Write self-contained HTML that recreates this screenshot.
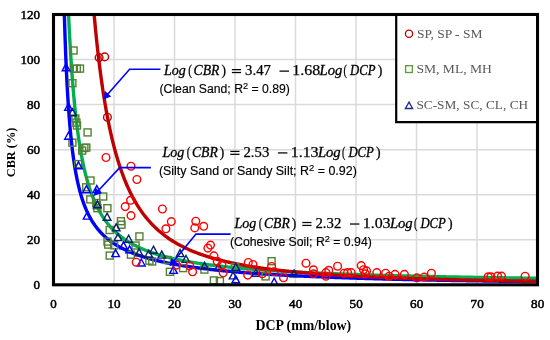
<!DOCTYPE html><html><head><meta charset="utf-8"><style>html,body{margin:0;padding:0;background:#fff;width:550px;height:340px;overflow:hidden}svg{display:block;will-change:transform}</style></head><body>
<svg width="550" height="340" viewBox="0 0 550 340">
<defs><clipPath id="pc"><rect x="53.50" y="14.50" width="484.00" height="270.30"/></clipPath></defs>
<rect width="550" height="340" fill="#fff"/>
<path d="M114.00 14.50V284.80M174.50 14.50V284.80M235.00 14.50V284.80M295.50 14.50V284.80M356.00 14.50V284.80M416.50 14.50V284.80M477.00 14.50V284.80M53.50 239.75H537.50M53.50 194.70H537.50M53.50 149.65H537.50M53.50 104.60H537.50M53.50 59.55H537.50" stroke="#dadada" stroke-width="1.5" fill="none"/>
<path d="M56.52 -1886.36 L56.83 -1620.31 L57.13 -1407.33 L57.43 -1233.49 L57.73 -1089.27 L58.04 -967.95 L58.34 -864.67 L58.64 -775.81 L58.95 -698.66 L59.25 -631.12 L59.55 -571.57 L59.85 -518.71 L60.16 -471.51 L60.46 -429.15 L60.76 -390.94 L61.06 -356.31 L61.37 -324.81 L61.67 -296.05 L61.97 -269.68 L62.27 -245.44 L62.58 -223.09 L62.88 -202.42 L63.18 -183.25 L63.48 -165.44 L63.79 -148.84 L64.09 -133.35 L64.39 -118.85 L64.69 -105.26 L65.00 -92.50 L65.30 -80.50 L65.60 -69.19 L65.90 -58.51 L66.21 -48.43 L66.51 -38.88 L66.81 -29.84 L67.11 -21.25 L67.42 -13.10 L67.72 -5.34 L68.02 2.04 L68.32 9.08 L68.62 15.80 L68.93 22.21 L69.23 28.34 L69.53 34.21 L69.83 39.83 L70.14 45.21 L70.44 50.38 L70.74 55.34 L71.04 60.10 L71.35 64.68 L71.65 69.09 L71.95 73.33 L72.25 77.42 L72.56 81.36 L72.86 85.16 L73.16 88.82 L73.46 92.36 L73.77 95.78 L74.07 99.09 L74.37 102.29 L74.67 105.38 L74.98 108.38 L75.28 111.28 L75.58 114.09 L75.88 116.82 L76.19 119.46 L76.49 122.03 L76.79 124.52 L77.09 126.94 L77.40 129.29 L77.70 131.57 L78.00 133.79 L78.30 135.95 L78.61 138.05 L78.91 140.09 L79.21 142.08 L79.51 144.02 L79.82 145.91 L80.12 147.75 L80.42 149.54 L80.72 151.29 L81.03 153.00 L81.33 154.66 L81.63 156.29 L81.93 157.87 L82.24 159.42 L82.54 160.94 L82.84 162.41 L83.14 163.86 L83.45 165.27 L83.75 166.65 L84.05 168.00 L84.35 169.32 L84.66 170.61 L84.96 171.87 L85.26 173.11 L85.56 174.32 L85.87 175.50 L86.17 176.67 L86.47 177.80 L86.77 178.92 L87.08 180.01 L87.38 181.08 L87.68 182.13 L87.98 183.16 L88.29 184.17 L88.59 185.16 L88.89 186.13 L89.19 187.08 L89.50 188.02 L89.80 188.93 L90.10 189.83 L90.40 190.72 L90.71 191.59 L91.01 192.44 L91.31 193.28 L91.61 194.10 L91.92 194.91 L92.22 195.71 L92.52 196.49 L92.82 197.25 L93.13 198.01 L93.43 198.75 L93.73 199.48 L94.03 200.20 L94.34 200.91 L94.64 201.60 L94.94 202.29 L95.24 202.96 L95.55 203.62 L95.85 204.27 L96.15 204.91 L96.45 205.55 L96.76 206.17 L97.06 206.78 L97.36 207.38 L97.66 207.98 L97.97 208.56 L98.27 209.14 L98.57 209.71 L98.87 210.27 L99.18 210.82 L99.48 211.36 L99.78 211.90 L100.08 212.43 L100.39 212.95 L100.69 213.46 L100.99 213.97 L101.29 214.47 L101.60 214.96 L101.90 215.44 L102.20 215.92 L102.50 216.40 L102.81 216.86 L103.11 217.32 L103.41 217.78 L103.71 218.22 L104.02 218.67 L104.32 219.10 L104.62 219.53 L104.92 219.96 L105.23 220.38 L105.53 220.79 L105.83 221.20 L106.13 221.60 L106.44 222.00 L106.74 222.40 L107.04 222.79 L107.34 223.17 L107.65 223.55 L107.95 223.93 L108.25 224.30 L108.55 224.66 L108.86 225.02 L109.16 225.38 L109.46 225.73 L109.77 226.08 L110.07 226.43 L110.37 226.77 L110.67 227.11 L110.98 227.44 L111.28 227.77 L111.58 228.10 L111.88 228.42 L112.19 228.74 L112.49 229.05 L112.79 229.36 L113.09 229.67 L113.40 229.97 L113.70 230.28 L114.00 230.57 L115.51 232.02 L117.03 233.39 L118.54 234.69 L120.05 235.92 L121.56 237.10 L123.08 238.22 L124.59 239.29 L126.10 240.31 L127.61 241.29 L129.13 242.22 L130.64 243.12 L132.15 243.98 L133.66 244.80 L135.18 245.59 L136.69 246.35 L138.20 247.09 L139.71 247.79 L141.23 248.47 L142.74 249.12 L144.25 249.75 L145.76 250.36 L147.28 250.95 L148.79 251.52 L150.30 252.06 L151.81 252.60 L153.33 253.11 L154.84 253.61 L156.35 254.09 L157.86 254.55 L159.38 255.01 L160.89 255.45 L162.40 255.87 L163.91 256.29 L165.43 256.69 L166.94 257.08 L168.45 257.46 L169.96 257.83 L171.48 258.19 L172.99 258.54 L174.50 258.88 L176.01 259.21 L177.53 259.54 L179.04 259.85 L180.55 260.16 L182.06 260.46 L183.58 260.75 L185.09 261.04 L186.60 261.31 L188.11 261.59 L189.63 261.85 L191.14 262.11 L192.65 262.37 L194.16 262.61 L195.68 262.86 L197.19 263.09 L198.70 263.32 L200.21 263.55 L201.73 263.77 L203.24 263.99 L204.75 264.20 L206.26 264.41 L207.78 264.62 L209.29 264.82 L210.80 265.01 L212.31 265.20 L213.83 265.39 L215.34 265.58 L216.85 265.76 L218.36 265.94 L219.88 266.11 L221.39 266.28 L222.90 266.45 L224.41 266.61 L225.93 266.78 L227.44 266.93 L228.95 267.09 L230.46 267.24 L231.98 267.39 L233.49 267.54 L235.00 267.69 L236.51 267.83 L238.03 267.97 L239.54 268.11 L241.05 268.24 L242.56 268.38 L244.08 268.51 L245.59 268.64 L247.10 268.77 L248.61 268.89 L250.13 269.01 L251.64 269.13 L253.15 269.25 L254.66 269.37 L256.18 269.49 L257.69 269.60 L259.20 269.71 L260.71 269.82 L262.23 269.93 L263.74 270.04 L265.25 270.14 L266.76 270.25 L268.28 270.35 L269.79 270.45 L271.30 270.55 L272.81 270.65 L274.33 270.75 L275.84 270.84 L277.35 270.94 L278.86 271.03 L280.38 271.12 L281.89 271.21 L283.40 271.30 L284.91 271.39 L286.43 271.47 L287.94 271.56 L289.45 271.64 L290.96 271.73 L292.48 271.81 L293.99 271.89 L295.50 271.97 L297.01 272.05 L298.53 272.13 L300.04 272.21 L301.55 272.28 L303.06 272.36 L304.58 272.43 L306.09 272.51 L307.60 272.58 L309.11 272.65 L310.63 272.72 L312.14 272.79 L313.65 272.86 L315.16 272.93 L316.68 273.00 L318.19 273.06 L319.70 273.13 L321.21 273.19 L322.73 273.26 L324.24 273.32 L325.75 273.38 L327.26 273.45 L328.78 273.51 L330.29 273.57 L331.80 273.63 L333.31 273.69 L334.83 273.75 L336.34 273.81 L337.85 273.86 L339.36 273.92 L340.88 273.98 L342.39 274.03 L343.90 274.09 L345.41 274.14 L346.93 274.20 L348.44 274.25 L349.95 274.30 L351.46 274.36 L352.98 274.41 L354.49 274.46 L356.00 274.51 L357.51 274.56 L359.03 274.61 L360.54 274.66 L362.05 274.71 L363.56 274.76 L365.08 274.80 L366.59 274.85 L368.10 274.90 L369.61 274.94 L371.13 274.99 L372.64 275.04 L374.15 275.08 L375.66 275.13 L377.18 275.17 L378.69 275.21 L380.20 275.26 L381.71 275.30 L383.23 275.34 L384.74 275.39 L386.25 275.43 L387.76 275.47 L389.28 275.51 L390.79 275.55 L392.30 275.59 L393.81 275.63 L395.33 275.67 L396.84 275.71 L398.35 275.75 L399.86 275.79 L401.38 275.83 L402.89 275.86 L404.40 275.90 L405.91 275.94 L407.43 275.98 L408.94 276.01 L410.45 276.05 L411.96 276.09 L413.48 276.12 L414.99 276.16 L416.50 276.19 L418.01 276.23 L419.53 276.26 L421.04 276.30 L422.55 276.33 L424.06 276.36 L425.58 276.40 L427.09 276.43 L428.60 276.46 L430.11 276.50 L431.63 276.53 L433.14 276.56 L434.65 276.59 L436.16 276.62 L437.68 276.65 L439.19 276.69 L440.70 276.72 L442.21 276.75 L443.73 276.78 L445.24 276.81 L446.75 276.84 L448.26 276.87 L449.77 276.90 L451.29 276.93 L452.80 276.95 L454.31 276.98 L455.82 277.01 L457.34 277.04 L458.85 277.07 L460.36 277.10 L461.88 277.12 L463.39 277.15 L464.90 277.18 L466.41 277.21 L467.93 277.23 L469.44 277.26 L470.95 277.29 L472.46 277.31 L473.98 277.34 L475.49 277.36 L477.00 277.39 L478.51 277.42 L480.02 277.44 L481.54 277.47 L483.05 277.49 L484.56 277.52 L486.07 277.54 L487.59 277.57 L489.10 277.59 L490.61 277.61 L492.12 277.64 L493.64 277.66 L495.15 277.69 L496.66 277.71 L498.18 277.73 L499.69 277.76 L501.20 277.78 L502.71 277.80 L504.23 277.82 L505.74 277.85 L507.25 277.87 L508.76 277.89 L510.27 277.91 L511.79 277.94 L513.30 277.96 L514.81 277.98 L516.33 278.00 L517.84 278.02 L519.35 278.04 L520.86 278.07 L522.38 278.09 L523.89 278.11 L525.40 278.13 L526.91 278.15 L528.42 278.17 L529.94 278.19 L531.45 278.21 L532.96 278.23 L534.48 278.25 L535.99 278.27 L537.50 278.29" stroke="#00b050" stroke-width="3.40" fill="none" stroke-linejoin="round" clip-path="url(#pc)"/>
<path d="M56.52 -2387.97 L56.83 -1870.92 L57.13 -1499.38 L57.43 -1223.15 L57.73 -1011.91 L58.04 -846.49 L58.34 -714.34 L58.64 -606.91 L58.95 -518.27 L59.25 -444.16 L59.55 -381.49 L59.85 -327.93 L60.16 -281.74 L60.46 -241.57 L60.76 -206.39 L61.06 -175.36 L61.37 -147.82 L61.67 -123.25 L61.97 -101.20 L62.27 -81.34 L62.58 -63.35 L62.88 -47.01 L63.18 -32.10 L63.48 -18.44 L63.79 -5.91 L64.09 5.65 L64.39 16.32 L64.69 26.21 L65.00 35.39 L65.30 43.94 L65.60 51.92 L65.90 59.38 L66.21 66.37 L66.51 72.93 L66.81 79.09 L67.11 84.90 L67.42 90.39 L67.72 95.56 L68.02 100.47 L68.32 105.11 L68.62 109.52 L68.93 113.70 L69.23 117.69 L69.53 121.48 L69.83 125.10 L70.14 128.55 L70.44 131.85 L70.74 135.00 L71.04 138.02 L71.35 140.92 L71.65 143.69 L71.95 146.35 L72.25 148.91 L72.56 151.37 L72.86 153.74 L73.16 156.02 L73.46 158.21 L73.77 160.33 L74.07 162.37 L74.37 164.34 L74.67 166.25 L74.98 168.09 L75.28 169.87 L75.58 171.59 L75.88 173.26 L76.19 174.88 L76.49 176.44 L76.79 177.96 L77.09 179.44 L77.40 180.87 L77.70 182.26 L78.00 183.61 L78.30 184.92 L78.61 186.19 L78.91 187.44 L79.21 188.64 L79.51 189.82 L79.82 190.96 L80.12 192.08 L80.42 193.17 L80.72 194.23 L81.03 195.26 L81.33 196.27 L81.63 197.25 L81.93 198.21 L82.24 199.15 L82.54 200.07 L82.84 200.96 L83.14 201.84 L83.45 202.70 L83.75 203.53 L84.05 204.35 L84.35 205.15 L84.66 205.94 L84.96 206.70 L85.26 207.46 L85.56 208.19 L85.87 208.91 L86.17 209.62 L86.47 210.31 L86.77 210.99 L87.08 211.66 L87.38 212.31 L87.68 212.95 L87.98 213.58 L88.29 214.20 L88.59 214.80 L88.89 215.40 L89.19 215.98 L89.50 216.56 L89.80 217.12 L90.10 217.67 L90.40 218.22 L90.71 218.75 L91.01 219.28 L91.31 219.79 L91.61 220.30 L91.92 220.80 L92.22 221.29 L92.52 221.78 L92.82 222.25 L93.13 222.72 L93.43 223.18 L93.73 223.63 L94.03 224.08 L94.34 224.52 L94.64 224.95 L94.94 225.38 L95.24 225.80 L95.55 226.21 L95.85 226.62 L96.15 227.02 L96.45 227.42 L96.76 227.81 L97.06 228.20 L97.36 228.57 L97.66 228.95 L97.97 229.32 L98.27 229.68 L98.57 230.04 L98.87 230.39 L99.18 230.74 L99.48 231.09 L99.78 231.43 L100.08 231.76 L100.39 232.10 L100.69 232.42 L100.99 232.74 L101.29 233.06 L101.60 233.38 L101.90 233.69 L102.20 234.00 L102.50 234.30 L102.81 234.60 L103.11 234.89 L103.41 235.19 L103.71 235.47 L104.02 235.76 L104.32 236.04 L104.62 236.32 L104.92 236.60 L105.23 236.87 L105.53 237.14 L105.83 237.40 L106.13 237.66 L106.44 237.92 L106.74 238.18 L107.04 238.44 L107.34 238.69 L107.65 238.94 L107.95 239.18 L108.25 239.42 L108.55 239.67 L108.86 239.90 L109.16 240.14 L109.46 240.37 L109.77 240.60 L110.07 240.83 L110.37 241.06 L110.67 241.28 L110.98 241.50 L111.28 241.72 L111.58 241.94 L111.88 242.15 L112.19 242.36 L112.49 242.57 L112.79 242.78 L113.09 242.99 L113.40 243.19 L113.70 243.39 L114.00 243.59 L115.51 244.57 L117.03 245.49 L118.54 246.38 L120.05 247.23 L121.56 248.04 L123.08 248.82 L124.59 249.57 L126.10 250.28 L127.61 250.97 L129.13 251.64 L130.64 252.28 L132.15 252.89 L133.66 253.49 L135.18 254.06 L136.69 254.62 L138.20 255.16 L139.71 255.68 L141.23 256.18 L142.74 256.67 L144.25 257.14 L145.76 257.59 L147.28 258.04 L148.79 258.47 L150.30 258.89 L151.81 259.30 L153.33 259.69 L154.84 260.08 L156.35 260.45 L157.86 260.81 L159.38 261.17 L160.89 261.51 L162.40 261.85 L163.91 262.18 L165.43 262.50 L166.94 262.81 L168.45 263.12 L169.96 263.42 L171.48 263.71 L172.99 263.99 L174.50 264.27 L176.01 264.54 L177.53 264.80 L179.04 265.06 L180.55 265.32 L182.06 265.57 L183.58 265.81 L185.09 266.05 L186.60 266.28 L188.11 266.51 L189.63 266.73 L191.14 266.95 L192.65 267.16 L194.16 267.38 L195.68 267.58 L197.19 267.78 L198.70 267.98 L200.21 268.18 L201.73 268.37 L203.24 268.56 L204.75 268.74 L206.26 268.92 L207.78 269.10 L209.29 269.27 L210.80 269.44 L212.31 269.61 L213.83 269.78 L215.34 269.94 L216.85 270.10 L218.36 270.25 L219.88 270.41 L221.39 270.56 L222.90 270.71 L224.41 270.86 L225.93 271.00 L227.44 271.14 L228.95 271.28 L230.46 271.42 L231.98 271.55 L233.49 271.69 L235.00 271.82 L236.51 271.95 L238.03 272.07 L239.54 272.20 L241.05 272.32 L242.56 272.44 L244.08 272.56 L245.59 272.68 L247.10 272.79 L248.61 272.91 L250.13 273.02 L251.64 273.13 L253.15 273.24 L254.66 273.35 L256.18 273.46 L257.69 273.56 L259.20 273.66 L260.71 273.77 L262.23 273.87 L263.74 273.96 L265.25 274.06 L266.76 274.16 L268.28 274.25 L269.79 274.35 L271.30 274.44 L272.81 274.53 L274.33 274.62 L275.84 274.71 L277.35 274.80 L278.86 274.88 L280.38 274.97 L281.89 275.05 L283.40 275.14 L284.91 275.22 L286.43 275.30 L287.94 275.38 L289.45 275.46 L290.96 275.54 L292.48 275.62 L293.99 275.69 L295.50 275.77 L297.01 275.84 L298.53 275.91 L300.04 275.99 L301.55 276.06 L303.06 276.13 L304.58 276.20 L306.09 276.27 L307.60 276.34 L309.11 276.41 L310.63 276.47 L312.14 276.54 L313.65 276.60 L315.16 276.67 L316.68 276.73 L318.19 276.79 L319.70 276.86 L321.21 276.92 L322.73 276.98 L324.24 277.04 L325.75 277.10 L327.26 277.16 L328.78 277.22 L330.29 277.27 L331.80 277.33 L333.31 277.39 L334.83 277.44 L336.34 277.50 L337.85 277.55 L339.36 277.61 L340.88 277.66 L342.39 277.71 L343.90 277.77 L345.41 277.82 L346.93 277.87 L348.44 277.92 L349.95 277.97 L351.46 278.02 L352.98 278.07 L354.49 278.12 L356.00 278.16 L357.51 278.21 L359.03 278.26 L360.54 278.31 L362.05 278.35 L363.56 278.40 L365.08 278.44 L366.59 278.49 L368.10 278.53 L369.61 278.58 L371.13 278.62 L372.64 278.66 L374.15 278.70 L375.66 278.75 L377.18 278.79 L378.69 278.83 L380.20 278.87 L381.71 278.91 L383.23 278.95 L384.74 278.99 L386.25 279.03 L387.76 279.07 L389.28 279.11 L390.79 279.15 L392.30 279.18 L393.81 279.22 L395.33 279.26 L396.84 279.30 L398.35 279.33 L399.86 279.37 L401.38 279.41 L402.89 279.44 L404.40 279.48 L405.91 279.51 L407.43 279.55 L408.94 279.58 L410.45 279.61 L411.96 279.65 L413.48 279.68 L414.99 279.71 L416.50 279.75 L418.01 279.78 L419.53 279.81 L421.04 279.84 L422.55 279.87 L424.06 279.91 L425.58 279.94 L427.09 279.97 L428.60 280.00 L430.11 280.03 L431.63 280.06 L433.14 280.09 L434.65 280.12 L436.16 280.15 L437.68 280.18 L439.19 280.20 L440.70 280.23 L442.21 280.26 L443.73 280.29 L445.24 280.32 L446.75 280.34 L448.26 280.37 L449.77 280.40 L451.29 280.43 L452.80 280.45 L454.31 280.48 L455.82 280.50 L457.34 280.53 L458.85 280.56 L460.36 280.58 L461.88 280.61 L463.39 280.63 L464.90 280.66 L466.41 280.68 L467.93 280.71 L469.44 280.73 L470.95 280.75 L472.46 280.78 L473.98 280.80 L475.49 280.83 L477.00 280.85 L478.51 280.87 L480.02 280.89 L481.54 280.92 L483.05 280.94 L484.56 280.96 L486.07 280.98 L487.59 281.01 L489.10 281.03 L490.61 281.05 L492.12 281.07 L493.64 281.09 L495.15 281.11 L496.66 281.14 L498.18 281.16 L499.69 281.18 L501.20 281.20 L502.71 281.22 L504.23 281.24 L505.74 281.26 L507.25 281.28 L508.76 281.30 L510.27 281.32 L511.79 281.34 L513.30 281.36 L514.81 281.38 L516.33 281.39 L517.84 281.41 L519.35 281.43 L520.86 281.45 L522.38 281.47 L523.89 281.49 L525.40 281.51 L526.91 281.52 L528.42 281.54 L529.94 281.56 L531.45 281.58 L532.96 281.60 L534.48 281.61 L535.99 281.63 L537.50 281.65" stroke="#0000ff" stroke-width="3.40" fill="none" stroke-linejoin="round" clip-path="url(#pc)"/>
<path d="M56.52 -21015.26 L56.83 -17863.62 L57.13 -15395.39 L57.43 -13422.38 L57.73 -11817.70 L58.04 -10493.09 L58.34 -9385.55 L58.64 -8449.06 L58.95 -7649.33 L59.25 -6960.35 L59.55 -6362.10 L59.85 -5838.95 L60.16 -5378.52 L60.46 -4970.95 L60.76 -4608.23 L61.06 -4283.87 L61.37 -3992.49 L61.67 -3729.67 L61.97 -3491.70 L62.27 -3275.46 L62.58 -3078.31 L62.88 -2898.02 L63.18 -2732.67 L63.48 -2580.60 L63.79 -2440.40 L64.09 -2310.84 L64.39 -2190.82 L64.69 -2079.42 L65.00 -1975.80 L65.30 -1879.24 L65.60 -1789.10 L65.90 -1704.80 L66.21 -1625.83 L66.51 -1551.75 L66.81 -1482.14 L67.11 -1416.65 L67.42 -1354.95 L67.72 -1296.73 L68.02 -1241.75 L68.32 -1189.75 L68.62 -1140.52 L68.93 -1093.86 L69.23 -1049.59 L69.53 -1007.54 L69.83 -967.57 L70.14 -929.53 L70.44 -893.30 L70.74 -858.76 L71.04 -825.81 L71.35 -794.35 L71.65 -764.29 L71.95 -735.54 L72.25 -708.02 L72.56 -681.67 L72.86 -656.42 L73.16 -632.20 L73.46 -608.96 L73.77 -586.65 L74.07 -565.21 L74.37 -544.60 L74.67 -524.77 L74.98 -505.69 L75.28 -487.32 L75.58 -469.61 L75.88 -452.55 L76.19 -436.09 L76.49 -420.21 L76.79 -404.88 L77.09 -390.08 L77.40 -375.77 L77.70 -361.95 L78.00 -348.57 L78.30 -335.64 L78.61 -323.12 L78.91 -310.99 L79.21 -299.25 L79.51 -287.87 L79.82 -276.85 L80.12 -266.15 L80.42 -255.78 L80.72 -245.71 L81.03 -235.94 L81.33 -226.45 L81.63 -217.24 L81.93 -208.29 L82.24 -199.59 L82.54 -191.13 L82.84 -182.90 L83.14 -174.90 L83.45 -167.11 L83.75 -159.54 L84.05 -152.16 L84.35 -144.97 L84.66 -137.98 L84.96 -131.16 L85.26 -124.51 L85.56 -118.04 L85.87 -111.72 L86.17 -105.56 L86.47 -99.55 L86.77 -93.69 L87.08 -87.97 L87.38 -82.38 L87.68 -76.93 L87.98 -71.60 L88.29 -66.40 L88.59 -61.32 L88.89 -56.36 L89.19 -51.50 L89.50 -46.76 L89.80 -42.12 L90.10 -37.58 L90.40 -33.15 L90.71 -28.81 L91.01 -24.56 L91.31 -20.40 L91.61 -16.34 L91.92 -12.36 L92.22 -8.46 L92.52 -4.64 L92.82 -0.90 L93.13 2.77 L93.43 6.35 L93.73 9.87 L94.03 13.32 L94.34 16.70 L94.64 20.01 L94.94 23.26 L95.24 26.44 L95.55 29.56 L95.85 32.63 L96.15 35.63 L96.45 38.58 L96.76 41.48 L97.06 44.32 L97.36 47.11 L97.66 49.84 L97.97 52.53 L98.27 55.17 L98.57 57.76 L98.87 60.30 L99.18 62.80 L99.48 65.26 L99.78 67.67 L100.08 70.04 L100.39 72.37 L100.69 74.66 L100.99 76.91 L101.29 79.13 L101.60 81.30 L101.90 83.44 L102.20 85.55 L102.50 87.62 L102.81 89.65 L103.11 91.65 L103.41 93.62 L103.71 95.56 L104.02 97.47 L104.32 99.34 L104.62 101.19 L104.92 103.01 L105.23 104.80 L105.53 106.56 L105.83 108.29 L106.13 110.00 L106.44 111.68 L106.74 113.34 L107.04 114.97 L107.34 116.58 L107.65 118.16 L107.95 119.72 L108.25 121.25 L108.55 122.77 L108.86 124.26 L109.16 125.73 L109.46 127.18 L109.77 128.60 L110.07 130.01 L110.37 131.40 L110.67 132.76 L110.98 134.11 L111.28 135.44 L111.58 136.75 L111.88 138.05 L112.19 139.32 L112.49 140.58 L112.79 141.82 L113.09 143.04 L113.40 144.25 L113.70 145.44 L114.00 146.61 L115.51 152.26 L117.03 157.54 L118.54 162.50 L120.05 167.16 L121.56 171.55 L123.08 175.68 L124.59 179.57 L126.10 183.26 L127.61 186.74 L129.13 190.03 L130.64 193.16 L132.15 196.12 L133.66 198.94 L135.18 201.61 L136.69 204.16 L138.20 206.58 L139.71 208.90 L141.23 211.10 L142.74 213.21 L144.25 215.22 L145.76 217.14 L147.28 218.99 L148.79 220.75 L150.30 222.44 L151.81 224.06 L153.33 225.62 L154.84 227.11 L156.35 228.55 L157.86 229.93 L159.38 231.25 L160.89 232.53 L162.40 233.76 L163.91 234.95 L165.43 236.09 L166.94 237.19 L168.45 238.25 L169.96 239.28 L171.48 240.27 L172.99 241.23 L174.50 242.16 L176.01 243.05 L177.53 243.92 L179.04 244.75 L180.55 245.57 L182.06 246.35 L183.58 247.11 L185.09 247.85 L186.60 248.57 L188.11 249.26 L189.63 249.94 L191.14 250.59 L192.65 251.23 L194.16 251.84 L195.68 252.44 L197.19 253.02 L198.70 253.59 L200.21 254.14 L201.73 254.68 L203.24 255.20 L204.75 255.71 L206.26 256.20 L207.78 256.68 L209.29 257.15 L210.80 257.61 L212.31 258.05 L213.83 258.48 L215.34 258.91 L216.85 259.32 L218.36 259.72 L219.88 260.11 L221.39 260.50 L222.90 260.87 L224.41 261.24 L225.93 261.59 L227.44 261.94 L228.95 262.28 L230.46 262.61 L231.98 262.94 L233.49 263.26 L235.00 263.57 L236.51 263.87 L238.03 264.17 L239.54 264.46 L241.05 264.74 L242.56 265.02 L244.08 265.29 L245.59 265.56 L247.10 265.82 L248.61 266.08 L250.13 266.33 L251.64 266.57 L253.15 266.81 L254.66 267.05 L256.18 267.28 L257.69 267.50 L259.20 267.73 L260.71 267.94 L262.23 268.16 L263.74 268.37 L265.25 268.57 L266.76 268.77 L268.28 268.97 L269.79 269.16 L271.30 269.35 L272.81 269.54 L274.33 269.72 L275.84 269.90 L277.35 270.08 L278.86 270.25 L280.38 270.42 L281.89 270.59 L283.40 270.76 L284.91 270.92 L286.43 271.08 L287.94 271.23 L289.45 271.39 L290.96 271.54 L292.48 271.68 L293.99 271.83 L295.50 271.97 L297.01 272.11 L298.53 272.25 L300.04 272.39 L301.55 272.52 L303.06 272.65 L304.58 272.78 L306.09 272.91 L307.60 273.04 L309.11 273.16 L310.63 273.28 L312.14 273.40 L313.65 273.52 L315.16 273.64 L316.68 273.75 L318.19 273.86 L319.70 273.97 L321.21 274.08 L322.73 274.19 L324.24 274.30 L325.75 274.40 L327.26 274.50 L328.78 274.61 L330.29 274.71 L331.80 274.80 L333.31 274.90 L334.83 275.00 L336.34 275.09 L337.85 275.18 L339.36 275.27 L340.88 275.37 L342.39 275.45 L343.90 275.54 L345.41 275.63 L346.93 275.71 L348.44 275.80 L349.95 275.88 L351.46 275.96 L352.98 276.04 L354.49 276.12 L356.00 276.20 L357.51 276.28 L359.03 276.36 L360.54 276.43 L362.05 276.51 L363.56 276.58 L365.08 276.65 L366.59 276.72 L368.10 276.79 L369.61 276.86 L371.13 276.93 L372.64 277.00 L374.15 277.07 L375.66 277.14 L377.18 277.20 L378.69 277.27 L380.20 277.33 L381.71 277.39 L383.23 277.46 L384.74 277.52 L386.25 277.58 L387.76 277.64 L389.28 277.70 L390.79 277.76 L392.30 277.81 L393.81 277.87 L395.33 277.93 L396.84 277.98 L398.35 278.04 L399.86 278.09 L401.38 278.15 L402.89 278.20 L404.40 278.25 L405.91 278.31 L407.43 278.36 L408.94 278.41 L410.45 278.46 L411.96 278.51 L413.48 278.56 L414.99 278.61 L416.50 278.66 L418.01 278.70 L419.53 278.75 L421.04 278.80 L422.55 278.84 L424.06 278.89 L425.58 278.93 L427.09 278.98 L428.60 279.02 L430.11 279.07 L431.63 279.11 L433.14 279.15 L434.65 279.19 L436.16 279.24 L437.68 279.28 L439.19 279.32 L440.70 279.36 L442.21 279.40 L443.73 279.44 L445.24 279.48 L446.75 279.52 L448.26 279.55 L449.77 279.59 L451.29 279.63 L452.80 279.67 L454.31 279.70 L455.82 279.74 L457.34 279.78 L458.85 279.81 L460.36 279.85 L461.88 279.88 L463.39 279.92 L464.90 279.95 L466.41 279.99 L467.93 280.02 L469.44 280.05 L470.95 280.09 L472.46 280.12 L473.98 280.15 L475.49 280.18 L477.00 280.22 L478.51 280.25 L480.02 280.28 L481.54 280.31 L483.05 280.34 L484.56 280.37 L486.07 280.40 L487.59 280.43 L489.10 280.46 L490.61 280.49 L492.12 280.52 L493.64 280.55 L495.15 280.58 L496.66 280.60 L498.18 280.63 L499.69 280.66 L501.20 280.69 L502.71 280.71 L504.23 280.74 L505.74 280.77 L507.25 280.79 L508.76 280.82 L510.27 280.85 L511.79 280.87 L513.30 280.90 L514.81 280.92 L516.33 280.95 L517.84 280.97 L519.35 281.00 L520.86 281.02 L522.38 281.05 L523.89 281.07 L525.40 281.10 L526.91 281.12 L528.42 281.14 L529.94 281.17 L531.45 281.19 L532.96 281.21 L534.48 281.23 L535.99 281.26 L537.50 281.28" stroke="#c00000" stroke-width="3.40" fill="none" stroke-linejoin="round" clip-path="url(#pc)"/>
<g clip-path="url(#pc)">
<rect x="70.1" y="47.0" width="7.00" height="7.00" fill="none" stroke="#548235" stroke-width="1.42"/>
<rect x="70.4" y="65.3" width="7.00" height="7.00" fill="none" stroke="#548235" stroke-width="1.42"/>
<rect x="73.3" y="65.3" width="7.00" height="7.00" fill="none" stroke="#548235" stroke-width="1.42"/>
<rect x="76.5" y="65.1" width="7.00" height="7.00" fill="none" stroke="#548235" stroke-width="1.42"/>
<rect x="68.9" y="79.7" width="7.00" height="7.00" fill="none" stroke="#548235" stroke-width="1.42"/>
<rect x="71.8" y="115.0" width="7.00" height="7.00" fill="none" stroke="#548235" stroke-width="1.42"/>
<rect x="72.9" y="119.1" width="7.00" height="7.00" fill="none" stroke="#548235" stroke-width="1.42"/>
<rect x="73.5" y="122.0" width="7.00" height="7.00" fill="none" stroke="#548235" stroke-width="1.42"/>
<rect x="84.1" y="128.9" width="7.00" height="7.00" fill="none" stroke="#548235" stroke-width="1.42"/>
<rect x="68.9" y="139.1" width="7.00" height="7.00" fill="none" stroke="#548235" stroke-width="1.42"/>
<rect x="80.9" y="144.5" width="7.00" height="7.00" fill="none" stroke="#548235" stroke-width="1.42"/>
<rect x="82.8" y="144.1" width="7.00" height="7.00" fill="none" stroke="#548235" stroke-width="1.42"/>
<rect x="78.7" y="147.1" width="7.00" height="7.00" fill="none" stroke="#548235" stroke-width="1.42"/>
<rect x="74.7" y="160.6" width="7.00" height="7.00" fill="none" stroke="#548235" stroke-width="1.42"/>
<rect x="87.0" y="177.0" width="7.00" height="7.00" fill="none" stroke="#548235" stroke-width="1.42"/>
<rect x="82.7" y="183.8" width="7.00" height="7.00" fill="none" stroke="#548235" stroke-width="1.42"/>
<rect x="99.7" y="193.0" width="7.00" height="7.00" fill="none" stroke="#548235" stroke-width="1.42"/>
<rect x="86.8" y="195.9" width="7.00" height="7.00" fill="none" stroke="#548235" stroke-width="1.42"/>
<rect x="92.7" y="199.5" width="7.00" height="7.00" fill="none" stroke="#548235" stroke-width="1.42"/>
<rect x="93.3" y="201.8" width="7.00" height="7.00" fill="none" stroke="#548235" stroke-width="1.42"/>
<rect x="93.9" y="204.7" width="7.00" height="7.00" fill="none" stroke="#548235" stroke-width="1.42"/>
<rect x="103.9" y="204.7" width="7.00" height="7.00" fill="none" stroke="#548235" stroke-width="1.42"/>
<rect x="117.4" y="217.7" width="7.00" height="7.00" fill="none" stroke="#548235" stroke-width="1.42"/>
<rect x="118.0" y="221.2" width="7.00" height="7.00" fill="none" stroke="#548235" stroke-width="1.42"/>
<rect x="106.2" y="226.5" width="7.00" height="7.00" fill="none" stroke="#548235" stroke-width="1.42"/>
<rect x="104.0" y="238.1" width="7.00" height="7.00" fill="none" stroke="#548235" stroke-width="1.42"/>
<rect x="104.7" y="241.1" width="7.00" height="7.00" fill="none" stroke="#548235" stroke-width="1.42"/>
<rect x="110.6" y="241.8" width="7.00" height="7.00" fill="none" stroke="#548235" stroke-width="1.42"/>
<rect x="106.2" y="252.1" width="7.00" height="7.00" fill="none" stroke="#548235" stroke-width="1.42"/>
<rect x="135.9" y="232.9" width="7.00" height="7.00" fill="none" stroke="#548235" stroke-width="1.42"/>
<rect x="132.1" y="242.0" width="7.00" height="7.00" fill="none" stroke="#548235" stroke-width="1.42"/>
<rect x="127.4" y="251.2" width="7.00" height="7.00" fill="none" stroke="#548235" stroke-width="1.42"/>
<rect x="145.9" y="257.2" width="7.00" height="7.00" fill="none" stroke="#548235" stroke-width="1.42"/>
<rect x="148.7" y="258.0" width="7.00" height="7.00" fill="none" stroke="#548235" stroke-width="1.42"/>
<rect x="164.1" y="256.5" width="7.00" height="7.00" fill="none" stroke="#548235" stroke-width="1.42"/>
<rect x="166.4" y="268.3" width="7.00" height="7.00" fill="none" stroke="#548235" stroke-width="1.42"/>
<rect x="179.6" y="264.6" width="7.00" height="7.00" fill="none" stroke="#548235" stroke-width="1.42"/>
<rect x="200.9" y="266.1" width="7.00" height="7.00" fill="none" stroke="#548235" stroke-width="1.42"/>
<rect x="231.6" y="263.7" width="7.00" height="7.00" fill="none" stroke="#548235" stroke-width="1.42"/>
<rect x="210.4" y="276.9" width="7.00" height="7.00" fill="none" stroke="#548235" stroke-width="1.42"/>
<rect x="216.4" y="277.6" width="7.00" height="7.00" fill="none" stroke="#548235" stroke-width="1.42"/>
<rect x="268.1" y="257.7" width="7.00" height="7.00" fill="none" stroke="#548235" stroke-width="1.42"/>
<rect x="262.1" y="272.9" width="7.00" height="7.00" fill="none" stroke="#548235" stroke-width="1.42"/>
<path d="M72.5 108.7L76.3 115.7L68.7 115.7Z" fill="none" stroke="#0c1f6e" stroke-width="1.42" stroke-linejoin="miter"/>
<path d="M97.4 200.8L101.2 207.8L93.6 207.8Z" fill="none" stroke="#0c1f6e" stroke-width="1.42" stroke-linejoin="miter"/>
<path d="M107.1 213.2L110.9 220.2L103.3 220.2Z" fill="none" stroke="#0c1f6e" stroke-width="1.42" stroke-linejoin="miter"/>
<path d="M116.2 223.8L120.0 230.8L112.4 230.8Z" fill="none" stroke="#0c1f6e" stroke-width="1.42" stroke-linejoin="miter"/>
<path d="M118.0 233.6L121.8 240.6L114.2 240.6Z" fill="none" stroke="#0c1f6e" stroke-width="1.42" stroke-linejoin="miter"/>
<path d="M128.6 235.2L132.4 242.2L124.8 242.2Z" fill="none" stroke="#0c1f6e" stroke-width="1.42" stroke-linejoin="miter"/>
<path d="M139.1 248.8L142.9 255.8L135.3 255.8Z" fill="none" stroke="#0c1f6e" stroke-width="1.42" stroke-linejoin="miter"/>
<path d="M148.7 250.2L152.5 257.2L144.9 257.2Z" fill="none" stroke="#0c1f6e" stroke-width="1.42" stroke-linejoin="miter"/>
<path d="M153.5 246.2L157.3 253.2L149.7 253.2Z" fill="none" stroke="#0c1f6e" stroke-width="1.42" stroke-linejoin="miter"/>
<path d="M161.8 251.1L165.6 258.1L158.0 258.1Z" fill="none" stroke="#0c1f6e" stroke-width="1.42" stroke-linejoin="miter"/>
<path d="M180.1 249.6L183.9 256.6L176.3 256.6Z" fill="none" stroke="#0c1f6e" stroke-width="1.42" stroke-linejoin="miter"/>
<path d="M186.0 255.5L189.8 262.4L182.2 262.4Z" fill="none" stroke="#0c1f6e" stroke-width="1.42" stroke-linejoin="miter"/>
<path d="M204.5 262.3L208.3 269.3L200.7 269.3Z" fill="none" stroke="#0c1f6e" stroke-width="1.42" stroke-linejoin="miter"/>
<path d="M218.5 263.3L222.3 270.3L214.7 270.3Z" fill="none" stroke="#0c1f6e" stroke-width="1.42" stroke-linejoin="miter"/>
<path d="M235.8 263.3L239.6 270.3L232.0 270.3Z" fill="none" stroke="#0c1f6e" stroke-width="1.42" stroke-linejoin="miter"/>
<path d="M233.1 271.9L236.9 278.9L229.3 278.9Z" fill="none" stroke="#0c1f6e" stroke-width="1.42" stroke-linejoin="miter"/>
<path d="M255.8 269.2L259.6 276.2L252.0 276.2Z" fill="none" stroke="#0c1f6e" stroke-width="1.42" stroke-linejoin="miter"/>
<path d="M294.1 269.9L297.9 276.9L290.3 276.9Z" fill="none" stroke="#0c1f6e" stroke-width="1.42" stroke-linejoin="miter"/>
<path d="M66.0 63.6L69.8 70.7L62.2 70.7Z" fill="none" stroke="#0000ff" stroke-width="1.42" stroke-linejoin="miter"/>
<path d="M68.5 103.2L72.3 110.2L64.7 110.2Z" fill="none" stroke="#0000ff" stroke-width="1.42" stroke-linejoin="miter"/>
<path d="M68.5 132.2L72.3 139.2L64.7 139.2Z" fill="none" stroke="#0000ff" stroke-width="1.42" stroke-linejoin="miter"/>
<path d="M78.5 161.8L82.3 168.8L74.7 168.8Z" fill="none" stroke="#0000ff" stroke-width="1.42" stroke-linejoin="miter"/>
<path d="M86.4 185.7L90.2 192.7L82.6 192.7Z" fill="none" stroke="#0000ff" stroke-width="1.42" stroke-linejoin="miter"/>
<path d="M96.8 185.6L100.6 192.6L93.0 192.6Z" fill="none" stroke="#0000ff" stroke-width="1.42" stroke-linejoin="miter"/>
<path d="M87.1 212.1L90.9 219.1L83.3 219.1Z" fill="none" stroke="#0000ff" stroke-width="1.42" stroke-linejoin="miter"/>
<path d="M123.5 241.8L127.3 248.8L119.7 248.8Z" fill="none" stroke="#0000ff" stroke-width="1.42" stroke-linejoin="miter"/>
<path d="M115.6 249.6L119.4 256.6L111.8 256.6Z" fill="none" stroke="#0000ff" stroke-width="1.42" stroke-linejoin="miter"/>
<path d="M129.6 245.8L133.4 252.8L125.8 252.8Z" fill="none" stroke="#0000ff" stroke-width="1.42" stroke-linejoin="miter"/>
<path d="M141.3 259.0L145.1 266.0L137.5 266.0Z" fill="none" stroke="#0000ff" stroke-width="1.42" stroke-linejoin="miter"/>
<path d="M173.5 266.4L177.3 273.4L169.7 273.4Z" fill="none" stroke="#0000ff" stroke-width="1.42" stroke-linejoin="miter"/>
<path d="M235.8 275.8L239.6 282.8L232.0 282.8Z" fill="none" stroke="#0000ff" stroke-width="1.42" stroke-linejoin="miter"/>
<path d="M274.2 278.2L278.0 285.2L270.4 285.2Z" fill="none" stroke="#0000ff" stroke-width="1.42" stroke-linejoin="miter"/>
<circle cx="99.1" cy="57.6" r="3.85" fill="none" stroke="#c00000" stroke-width="1.42"/>
<circle cx="104.7" cy="56.9" r="3.85" fill="none" stroke="#c00000" stroke-width="1.42"/>
<circle cx="107.4" cy="117.2" r="3.85" fill="none" stroke="#c00000" stroke-width="1.42"/>
<circle cx="106.0" cy="157.5" r="3.85" fill="none" stroke="#ff0000" stroke-width="1.42"/>
<circle cx="131.0" cy="166.2" r="3.85" fill="none" stroke="#ff0000" stroke-width="1.42"/>
<circle cx="136.9" cy="179.5" r="3.85" fill="none" stroke="#ff0000" stroke-width="1.42"/>
<circle cx="130.6" cy="200.3" r="3.85" fill="none" stroke="#ff0000" stroke-width="1.42"/>
<circle cx="125.2" cy="206.6" r="3.85" fill="none" stroke="#ff0000" stroke-width="1.42"/>
<circle cx="131.0" cy="215.6" r="3.85" fill="none" stroke="#ff0000" stroke-width="1.42"/>
<circle cx="162.4" cy="209.0" r="3.85" fill="none" stroke="#ff0000" stroke-width="1.42"/>
<circle cx="171.3" cy="221.6" r="3.85" fill="none" stroke="#ff0000" stroke-width="1.42"/>
<circle cx="165.9" cy="228.8" r="3.85" fill="none" stroke="#ff0000" stroke-width="1.42"/>
<circle cx="195.8" cy="221.2" r="3.85" fill="none" stroke="#ff0000" stroke-width="1.42"/>
<circle cx="194.8" cy="227.9" r="3.85" fill="none" stroke="#ff0000" stroke-width="1.42"/>
<circle cx="203.7" cy="226.3" r="3.85" fill="none" stroke="#ff0000" stroke-width="1.42"/>
<circle cx="207.9" cy="248.1" r="3.85" fill="none" stroke="#ff0000" stroke-width="1.42"/>
<circle cx="210.5" cy="245.1" r="3.85" fill="none" stroke="#ff0000" stroke-width="1.42"/>
<circle cx="213.9" cy="255.9" r="3.85" fill="none" stroke="#ff0000" stroke-width="1.42"/>
<circle cx="217.2" cy="261.2" r="3.85" fill="none" stroke="#ff0000" stroke-width="1.42"/>
<circle cx="221.9" cy="265.1" r="3.85" fill="none" stroke="#ff0000" stroke-width="1.42"/>
<circle cx="223.2" cy="272.8" r="3.85" fill="none" stroke="#ff0000" stroke-width="1.42"/>
<circle cx="136.2" cy="262.2" r="3.85" fill="none" stroke="#ff0000" stroke-width="1.42"/>
<circle cx="176.5" cy="265.1" r="3.85" fill="none" stroke="#ff0000" stroke-width="1.42"/>
<circle cx="189.7" cy="265.9" r="3.85" fill="none" stroke="#ff0000" stroke-width="1.42"/>
<circle cx="192.6" cy="271.8" r="3.85" fill="none" stroke="#ff0000" stroke-width="1.42"/>
<circle cx="248.3" cy="262.5" r="3.85" fill="none" stroke="#ff0000" stroke-width="1.42"/>
<circle cx="253.0" cy="264.5" r="3.85" fill="none" stroke="#ff0000" stroke-width="1.42"/>
<circle cx="247.7" cy="275.1" r="3.85" fill="none" stroke="#ff0000" stroke-width="1.42"/>
<circle cx="262.3" cy="273.8" r="3.85" fill="none" stroke="#ff0000" stroke-width="1.42"/>
<circle cx="271.6" cy="266.5" r="3.85" fill="none" stroke="#ff0000" stroke-width="1.42"/>
<circle cx="274.2" cy="271.8" r="3.85" fill="none" stroke="#ff0000" stroke-width="1.42"/>
<circle cx="283.5" cy="277.7" r="3.85" fill="none" stroke="#ff0000" stroke-width="1.42"/>
<circle cx="306.0" cy="263.2" r="3.85" fill="none" stroke="#ff0000" stroke-width="1.42"/>
<circle cx="313.4" cy="269.8" r="3.85" fill="none" stroke="#ff0000" stroke-width="1.42"/>
<circle cx="313.5" cy="273.8" r="3.85" fill="none" stroke="#ff0000" stroke-width="1.42"/>
<circle cx="325.9" cy="272.6" r="3.85" fill="none" stroke="#ff0000" stroke-width="1.42"/>
<circle cx="328.8" cy="270.3" r="3.85" fill="none" stroke="#ff0000" stroke-width="1.42"/>
<circle cx="325.9" cy="276.2" r="3.85" fill="none" stroke="#ff0000" stroke-width="1.42"/>
<circle cx="337.6" cy="266.2" r="3.85" fill="none" stroke="#ff0000" stroke-width="1.42"/>
<circle cx="344.1" cy="273.2" r="3.85" fill="none" stroke="#ff0000" stroke-width="1.42"/>
<circle cx="347.6" cy="272.6" r="3.85" fill="none" stroke="#ff0000" stroke-width="1.42"/>
<circle cx="351.2" cy="272.6" r="3.85" fill="none" stroke="#ff0000" stroke-width="1.42"/>
<circle cx="361.2" cy="265.6" r="3.85" fill="none" stroke="#ff0000" stroke-width="1.42"/>
<circle cx="363.5" cy="269.7" r="3.85" fill="none" stroke="#ff0000" stroke-width="1.42"/>
<circle cx="366.5" cy="270.9" r="3.85" fill="none" stroke="#ff0000" stroke-width="1.42"/>
<circle cx="365.3" cy="273.8" r="3.85" fill="none" stroke="#ff0000" stroke-width="1.42"/>
<circle cx="376.8" cy="272.6" r="3.85" fill="none" stroke="#ff0000" stroke-width="1.42"/>
<circle cx="385.6" cy="273.2" r="3.85" fill="none" stroke="#ff0000" stroke-width="1.42"/>
<circle cx="389.1" cy="276.2" r="3.85" fill="none" stroke="#ff0000" stroke-width="1.42"/>
<circle cx="395.0" cy="274.4" r="3.85" fill="none" stroke="#ff0000" stroke-width="1.42"/>
<circle cx="404.4" cy="274.4" r="3.85" fill="none" stroke="#ff0000" stroke-width="1.42"/>
<circle cx="416.8" cy="277.9" r="3.85" fill="none" stroke="#ff0000" stroke-width="1.42"/>
<circle cx="424.2" cy="277.1" r="3.85" fill="none" stroke="#ff0000" stroke-width="1.42"/>
<circle cx="431.4" cy="273.2" r="3.85" fill="none" stroke="#ff0000" stroke-width="1.42"/>
<circle cx="488.2" cy="276.8" r="3.85" fill="none" stroke="#ff0000" stroke-width="1.42"/>
<circle cx="490.9" cy="276.8" r="3.85" fill="none" stroke="#ff0000" stroke-width="1.42"/>
<circle cx="497.5" cy="276.1" r="3.85" fill="none" stroke="#ff0000" stroke-width="1.42"/>
<circle cx="501.5" cy="276.1" r="3.85" fill="none" stroke="#ff0000" stroke-width="1.42"/>
<circle cx="525.1" cy="276.2" r="3.85" fill="none" stroke="#ff0000" stroke-width="1.42"/>
</g>
<path d="M160.4 69.3 L129.6 69.3 L107.5 94.5" stroke="#0000ff" stroke-width="1.6" fill="none"/><path d="M103.2 99.4L105.1 91.1L111.2 96.4Z" fill="#0000ff"/>
<path d="M150.9 167.6 L119.7 167.6 L97.8 191.2" stroke="#0000ff" stroke-width="1.6" fill="none"/><path d="M93.4 196.0L95.6 187.8L101.4 193.2Z" fill="#0000ff"/>
<path d="M230.6 234.1 L196.0 234.1 L173.6 261.3" stroke="#0000ff" stroke-width="1.6" fill="none"/><path d="M169.5 266.3L171.2 258.0L177.4 263.1Z" fill="#0000ff"/>
<rect x="53.50" y="14.50" width="484.00" height="270.30" fill="none" stroke="#000" stroke-width="3.1"/>
<rect x="396.20" y="16.00" width="139.80" height="106.20" fill="#fff" stroke="none"/>
<path d="M396.20 14.50V122.20H537.50" stroke="#000" stroke-width="2.2" fill="none"/>
<circle cx="409.0" cy="33.8" r="3.60" fill="none" stroke="#c00000" stroke-width="1.30"/>
<rect x="405.6" y="65.7" width="6.80" height="6.80" fill="none" stroke="#5f9a3c" stroke-width="1.35"/>
<path d="M409.0 102.1L412.6 108.5L405.4 108.5Z" fill="none" stroke="#1f2d86" stroke-width="1.35" stroke-linejoin="miter"/>
<text x="416.9" y="37.7" font-family="Liberation Serif" font-size="11.5" fill="#595959" textLength="65.5" lengthAdjust="spacingAndGlyphs">SP, SP - SM</text>
<text x="416.4" y="72.7" font-family="Liberation Serif" font-size="11.5" fill="#595959" textLength="75.5" lengthAdjust="spacingAndGlyphs">SM, ML, MH</text>
<text x="416.4" y="108.7" font-family="Liberation Serif" font-size="11.5" fill="#595959" textLength="111.8" lengthAdjust="spacingAndGlyphs">SC-SM, SC, CL, CH</text>
<text x="33.5" y="289.2" font-family="Liberation Serif" font-size="12.4" fill="#000" stroke="#000" stroke-width="0.5" textLength="6.5" lengthAdjust="spacingAndGlyphs">0</text>
<text x="26.9" y="244.2" font-family="Liberation Serif" font-size="12.4" fill="#000" stroke="#000" stroke-width="0.5" textLength="13.1" lengthAdjust="spacingAndGlyphs">20</text>
<text x="26.9" y="199.1" font-family="Liberation Serif" font-size="12.4" fill="#000" stroke="#000" stroke-width="0.5" textLength="13.1" lengthAdjust="spacingAndGlyphs">40</text>
<text x="26.9" y="154.1" font-family="Liberation Serif" font-size="12.4" fill="#000" stroke="#000" stroke-width="0.5" textLength="13.1" lengthAdjust="spacingAndGlyphs">60</text>
<text x="26.9" y="109.0" font-family="Liberation Serif" font-size="12.4" fill="#000" stroke="#000" stroke-width="0.5" textLength="13.1" lengthAdjust="spacingAndGlyphs">80</text>
<text x="20.4" y="64.0" font-family="Liberation Serif" font-size="12.4" fill="#000" stroke="#000" stroke-width="0.5" textLength="19.6" lengthAdjust="spacingAndGlyphs">100</text>
<text x="20.4" y="18.9" font-family="Liberation Serif" font-size="12.4" fill="#000" stroke="#000" stroke-width="0.5" textLength="19.6" lengthAdjust="spacingAndGlyphs">120</text>
<text x="50.3" y="307.9" font-family="Liberation Serif" font-size="12.4" fill="#000" stroke="#000" stroke-width="0.5" textLength="6.5" lengthAdjust="spacingAndGlyphs">0</text>
<text x="107.5" y="307.9" font-family="Liberation Serif" font-size="12.4" fill="#000" stroke="#000" stroke-width="0.5" textLength="13.1" lengthAdjust="spacingAndGlyphs">10</text>
<text x="168.0" y="307.9" font-family="Liberation Serif" font-size="12.4" fill="#000" stroke="#000" stroke-width="0.5" textLength="13.1" lengthAdjust="spacingAndGlyphs">20</text>
<text x="228.5" y="307.9" font-family="Liberation Serif" font-size="12.4" fill="#000" stroke="#000" stroke-width="0.5" textLength="13.1" lengthAdjust="spacingAndGlyphs">30</text>
<text x="289.1" y="307.9" font-family="Liberation Serif" font-size="12.4" fill="#000" stroke="#000" stroke-width="0.5" textLength="13.1" lengthAdjust="spacingAndGlyphs">40</text>
<text x="349.6" y="307.9" font-family="Liberation Serif" font-size="12.4" fill="#000" stroke="#000" stroke-width="0.5" textLength="13.1" lengthAdjust="spacingAndGlyphs">50</text>
<text x="410.1" y="307.9" font-family="Liberation Serif" font-size="12.4" fill="#000" stroke="#000" stroke-width="0.5" textLength="13.1" lengthAdjust="spacingAndGlyphs">60</text>
<text x="470.6" y="307.9" font-family="Liberation Serif" font-size="12.4" fill="#000" stroke="#000" stroke-width="0.5" textLength="13.1" lengthAdjust="spacingAndGlyphs">70</text>
<text x="531.1" y="307.9" font-family="Liberation Serif" font-size="12.4" fill="#000" stroke="#000" stroke-width="0.5" textLength="13.1" lengthAdjust="spacingAndGlyphs">80</text>
<text x="255.4" y="329.8" font-family="Liberation Serif" font-weight="bold" font-size="14.2" textLength="95.8" lengthAdjust="spacingAndGlyphs">DCP (mm/blow)</text>
<text transform="translate(14.6,177.2) rotate(-90)" x="0" y="0" font-family="Liberation Serif" font-weight="bold" font-size="12.8" textLength="49.5" lengthAdjust="spacingAndGlyphs">CBR (%)</text>
<text x="164.00" y="75.20" font-family="Liberation Serif" font-style="italic" font-size="13.6" fill="#000" stroke="#000" stroke-width="0.3" textLength="21.80" lengthAdjust="spacingAndGlyphs">Log</text><text x="188.30" y="75.20" font-family="Liberation Serif" font-size="13.8" fill="#000" stroke="#000" stroke-width="0.25" textLength="3.70" lengthAdjust="spacingAndGlyphs">(</text><text x="193.60" y="75.20" font-family="Liberation Serif" font-style="italic" font-size="13.6" fill="#000" stroke="#000" stroke-width="0.3" textLength="25.80" lengthAdjust="spacingAndGlyphs">CBR</text><text x="221.40" y="75.20" font-family="Liberation Serif" font-size="13.8" fill="#000" stroke="#000" stroke-width="0.25" textLength="4.50" lengthAdjust="spacingAndGlyphs">)</text><text x="245.10" y="75.20" font-family="Liberation Serif" font-size="13.8" fill="#000" stroke="#000" stroke-width="0.25" textLength="25.80" lengthAdjust="spacingAndGlyphs">3.47</text><text x="292.30" y="75.20" font-family="Liberation Serif" font-size="13.8" fill="#000" stroke="#000" stroke-width="0.25" textLength="27.90" lengthAdjust="spacingAndGlyphs">1.68</text><text x="319.50" y="75.20" font-family="Liberation Serif" font-style="italic" font-size="13.6" fill="#000" stroke="#000" stroke-width="0.3" textLength="22.80" lengthAdjust="spacingAndGlyphs">Log</text><text x="343.60" y="75.20" font-family="Liberation Serif" font-size="13.8" fill="#000" stroke="#000" stroke-width="0.25" textLength="3.40" lengthAdjust="spacingAndGlyphs">(</text><text x="350.00" y="75.20" font-family="Liberation Serif" font-style="italic" font-size="13.6" fill="#000" stroke="#000" stroke-width="0.3" textLength="25.50" lengthAdjust="spacingAndGlyphs">DCP</text><text x="377.70" y="75.20" font-family="Liberation Serif" font-size="13.8" fill="#000" stroke="#000" stroke-width="0.25" textLength="4.60" lengthAdjust="spacingAndGlyphs">)</text><rect x="231.90" y="69.00" width="9.2" height="1.25" fill="#000"/><rect x="231.90" y="71.90" width="9.2" height="1.25" fill="#000"/><rect x="279.50" y="70.50" width="9.5" height="1.25" fill="#000"/>
<text x="162.40" y="157.00" font-family="Liberation Serif" font-style="italic" font-size="13.6" fill="#000" stroke="#000" stroke-width="0.3" textLength="21.80" lengthAdjust="spacingAndGlyphs">Log</text><text x="186.70" y="157.00" font-family="Liberation Serif" font-size="13.8" fill="#000" stroke="#000" stroke-width="0.25" textLength="3.70" lengthAdjust="spacingAndGlyphs">(</text><text x="192.00" y="157.00" font-family="Liberation Serif" font-style="italic" font-size="13.6" fill="#000" stroke="#000" stroke-width="0.3" textLength="25.80" lengthAdjust="spacingAndGlyphs">CBR</text><text x="219.80" y="157.00" font-family="Liberation Serif" font-size="13.8" fill="#000" stroke="#000" stroke-width="0.25" textLength="4.50" lengthAdjust="spacingAndGlyphs">)</text><text x="243.50" y="157.00" font-family="Liberation Serif" font-size="13.8" fill="#000" stroke="#000" stroke-width="0.25" textLength="25.80" lengthAdjust="spacingAndGlyphs">2.53</text><text x="290.70" y="157.00" font-family="Liberation Serif" font-size="13.8" fill="#000" stroke="#000" stroke-width="0.25" textLength="27.90" lengthAdjust="spacingAndGlyphs">1.13</text><text x="317.90" y="157.00" font-family="Liberation Serif" font-style="italic" font-size="13.6" fill="#000" stroke="#000" stroke-width="0.3" textLength="22.80" lengthAdjust="spacingAndGlyphs">Log</text><text x="342.00" y="157.00" font-family="Liberation Serif" font-size="13.8" fill="#000" stroke="#000" stroke-width="0.25" textLength="3.40" lengthAdjust="spacingAndGlyphs">(</text><text x="348.40" y="157.00" font-family="Liberation Serif" font-style="italic" font-size="13.6" fill="#000" stroke="#000" stroke-width="0.3" textLength="25.50" lengthAdjust="spacingAndGlyphs">DCP</text><text x="376.10" y="157.00" font-family="Liberation Serif" font-size="13.8" fill="#000" stroke="#000" stroke-width="0.25" textLength="4.60" lengthAdjust="spacingAndGlyphs">)</text><rect x="230.30" y="150.80" width="9.2" height="1.25" fill="#000"/><rect x="230.30" y="153.70" width="9.2" height="1.25" fill="#000"/><rect x="277.90" y="152.30" width="9.5" height="1.25" fill="#000"/>
<text x="234.40" y="228.10" font-family="Liberation Serif" font-style="italic" font-size="13.6" fill="#000" stroke="#000" stroke-width="0.3" textLength="21.80" lengthAdjust="spacingAndGlyphs">Log</text><text x="258.70" y="228.10" font-family="Liberation Serif" font-size="13.8" fill="#000" stroke="#000" stroke-width="0.25" textLength="3.70" lengthAdjust="spacingAndGlyphs">(</text><text x="264.00" y="228.10" font-family="Liberation Serif" font-style="italic" font-size="13.6" fill="#000" stroke="#000" stroke-width="0.3" textLength="25.80" lengthAdjust="spacingAndGlyphs">CBR</text><text x="291.80" y="228.10" font-family="Liberation Serif" font-size="13.8" fill="#000" stroke="#000" stroke-width="0.25" textLength="4.50" lengthAdjust="spacingAndGlyphs">)</text><text x="315.50" y="228.10" font-family="Liberation Serif" font-size="13.8" fill="#000" stroke="#000" stroke-width="0.25" textLength="25.80" lengthAdjust="spacingAndGlyphs">2.32</text><text x="362.70" y="228.10" font-family="Liberation Serif" font-size="13.8" fill="#000" stroke="#000" stroke-width="0.25" textLength="27.90" lengthAdjust="spacingAndGlyphs">1.03</text><text x="389.90" y="228.10" font-family="Liberation Serif" font-style="italic" font-size="13.6" fill="#000" stroke="#000" stroke-width="0.3" textLength="22.80" lengthAdjust="spacingAndGlyphs">Log</text><text x="414.00" y="228.10" font-family="Liberation Serif" font-size="13.8" fill="#000" stroke="#000" stroke-width="0.25" textLength="3.40" lengthAdjust="spacingAndGlyphs">(</text><text x="420.40" y="228.10" font-family="Liberation Serif" font-style="italic" font-size="13.6" fill="#000" stroke="#000" stroke-width="0.3" textLength="25.50" lengthAdjust="spacingAndGlyphs">DCP</text><text x="448.10" y="228.10" font-family="Liberation Serif" font-size="13.8" fill="#000" stroke="#000" stroke-width="0.25" textLength="4.60" lengthAdjust="spacingAndGlyphs">)</text><rect x="302.30" y="221.90" width="9.2" height="1.25" fill="#000"/><rect x="302.30" y="224.80" width="9.2" height="1.25" fill="#000"/><rect x="349.90" y="223.40" width="9.5" height="1.25" fill="#000"/>
<text x="159.5" y="93.3" font-family="Liberation Sans" font-size="12" fill="#000" stroke="#000" stroke-width="0.15" textLength="130.3" lengthAdjust="spacingAndGlyphs">(Clean Sand; R<tspan font-size="9" dy="-4.2">2</tspan><tspan dy="4.2"> = 0.89)</tspan></text>
<text x="158.9" y="174.9" font-family="Liberation Sans" font-size="12" fill="#000" stroke="#000" stroke-width="0.15" textLength="197.9" lengthAdjust="spacingAndGlyphs">(Silty Sand or Sandy Silt; R<tspan font-size="9" dy="-4.2">2</tspan><tspan dy="4.2"> = 0.92)</tspan></text>
<text x="230.0" y="246.1" font-family="Liberation Sans" font-size="12" fill="#000" stroke="#000" stroke-width="0.15" textLength="141.8" lengthAdjust="spacingAndGlyphs">(Cohesive Soil; R<tspan font-size="9" dy="-4.2">2</tspan><tspan dy="4.2"> = 0.94)</tspan></text>
</svg></body></html>
